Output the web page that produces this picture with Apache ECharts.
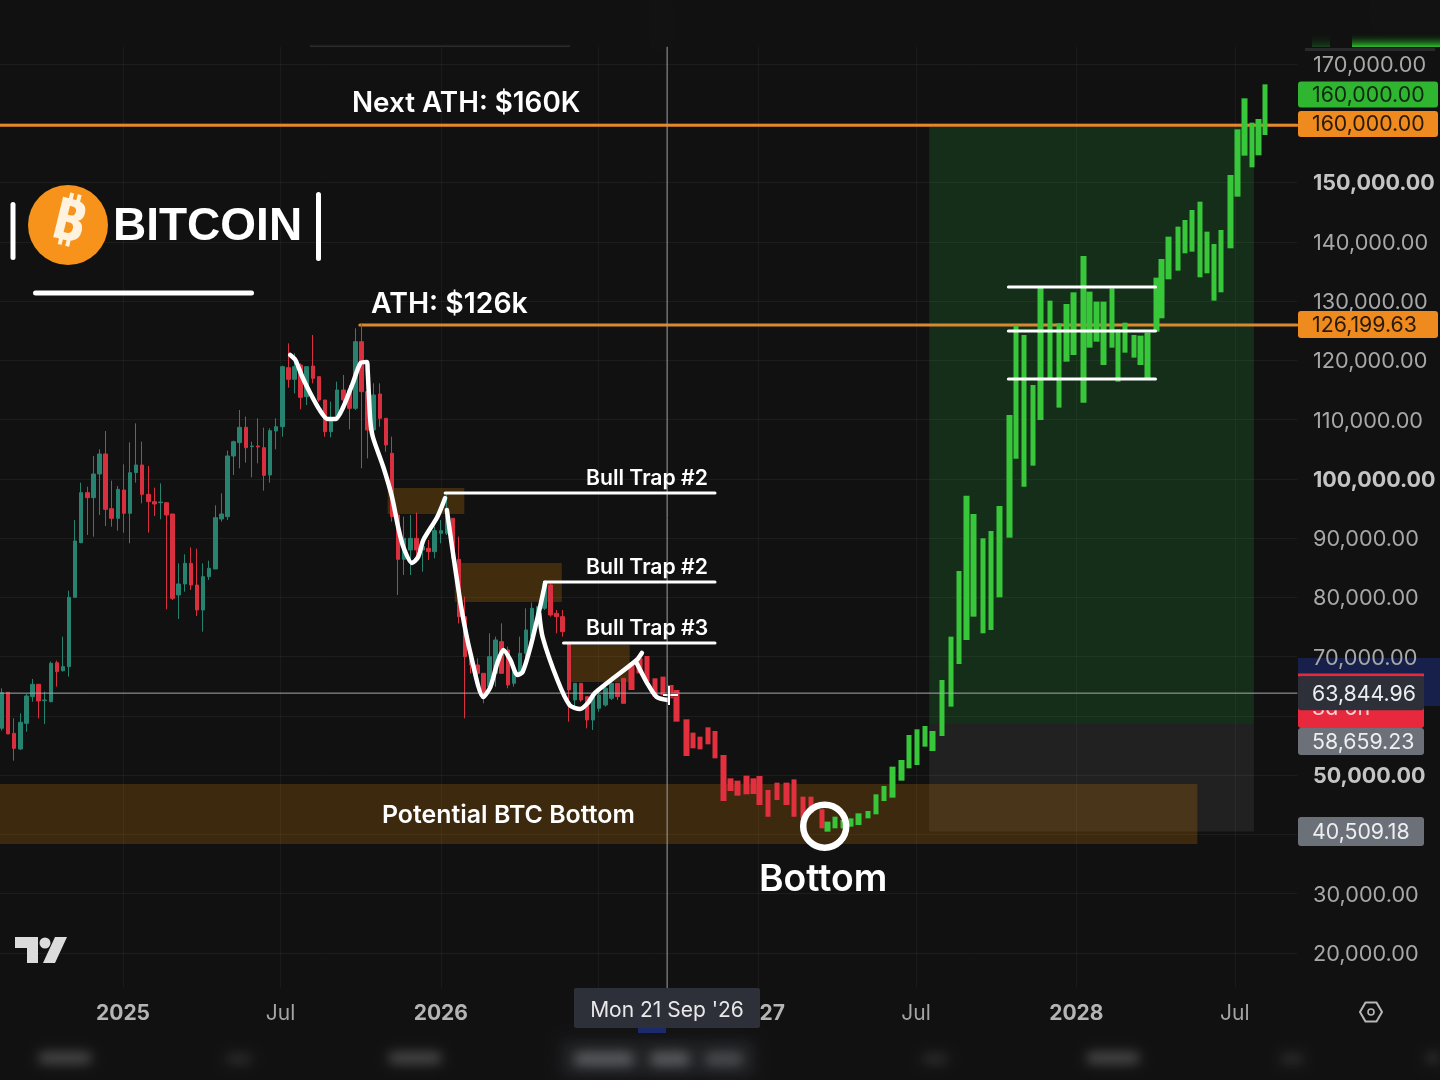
<!DOCTYPE html>
<html>
<head>
<meta charset="utf-8">
<style>html,body{margin:0;padding:0;background:#111112}#c{width:1440px;height:1080px}</style>
<script src="https://cdn.jsdelivr.net/npm/echarts@6/dist/echarts.min.js"></script>
</head>
<body>
<div id="c"></div>
<script>
// ---------- axis (x is measured in days after 1 Jan 2025) ----------
const yTicks = [20000,30000,40000,50000,60000,70000,80000,90000,100000,110000,120000,130000,140000,150000,160000,170000];
const yBoldTicks = [50000,100000,150000];
const xTickDays = [0,181,365,546,730,911,1095,1277];
const xTickLabels = ['2025','Jul','2026','Jul','2027','Jul','2028','Jul'];
const xBoldLabels = ['2025','2026','2027','2028'];
const xMinDay = -141.3, xMaxDay = 1348.5, yMin = 14094, yMax = 172868;

// ---------- weekly candles: open, close, low, high ----------
const histStartDay = -139;
const histOHLC = [
[57911,63929,57517,64660],[63985,56955,56955,63985],[57067,54535,52455,59598],[54424,58923,54256,60442],
[58755,63366,57349,63703],[63254,65335,62410,66235],[65335,62523,59598,65335],[62580,62692,58642,64098],
[62410,68878,62298,69160],[68990,67472,64941,69328],[67640,68316,67472,73377],[68316,80014,66626,81137],
[80014,89518,80014,93061],[89238,97672,89124,99360],[97672,96829,90530,98685],[96829,100822,90249,103859],
[100822,104197,93905,104984],[104197,94861,92048,108077],[94973,93342,91936,99697],[93342,98235,91261,98797],
[98123,94186,90924,102453],[94186,101047,89124,106165],[101047,102341,99360,109371],[102341,97392,95873,106277],
[97392,96154,90924,102172],[96154,95760,93736,98516],[95986,96098,93173,99247],[95986,93905,77989,95986],
[94073,79845,79563,94073],[80407,82263,76357,85750],[82263,85750,80969,87268],[85750,82094,81251,88449],
[82094,77876,76864,88224],[77876,83500,74221,85750],[83500,84906,82938,86200],[84794,93455,84794,95536],
[93230,94073,92780,97560],[93623,103859,93061,104759],[103859,106277,100653,106446],[106108,108696,101778,111620],
[108696,105265,102734,110495],[105434,105546,100259,106277],[105546,105378,102622,110214],[105265,100597,98010,108640],
[100653,108133,99360,108527],[108077,108808,104984,110214],[108808,118931,107121,119100],[118763,116794,115388,122868],
[116794,118931,114432,121181],[119213,113757,111733,119494],[113870,118931,112464,118931],[119044,116963,116119,124274],
[117244,113307,113026,117244],[113307,107965,107121,113307],[107965,109933,107009,113026],[109933,114995,109933,116401],
[114995,113307,112745,117525],[114995,111901,108358,115838],[111901,123149,111620,125399],[123149,114713,101778,126199],
[114713,108246,103465,120056],[108246,114151,108246,116119],[114320,110214,108808,116119],[110214,105715,104590,110214],
[104309,93623,92780,107121],[93905,86425,80407,94186],[86425,89968,83781,93623],[87999,89968,83781,93905],
[89968,87999,86312,94298],[87999,88561,84343,90249],[88280,87718,86312,89687],[87718,91261,86594,91936],
[90812,91261,89124,93061],[90812,94467,90530,97560],[93342,86594,86594,93342],[86425,76752,75627,90249],
[76752,69993,59598,80126],[69993,68597,67190,69993],[68597,67190,64941,69721],[67190,63254,62129,67190],
[64941,69993,64379,73939],[67190,72815,64941,73377],[72534,67190,67190,75627],[71127,65222,64660,71690],
[65504,67472,64941,68878],[67190,70565,66909,73377],[70565,74502,67753,78157],[73377,78157,73377,79113],
[76752,78438,76000,78438],[78157,82375,77876,82375],[82094,77032,76751,82375],[77313,76751,73939,77876],
[76751,74221,73377,77876],[72253,64379,59036,72253],[62692,65504,61285,65504],[65504,62692,62410,65504],
[63254,59317,57911,63254],[59317,63535,57630,63535],[61285,63535,60722,64379],[61847,64660,61566,65222],
[62974,65504,62692,66629],[65504,63254,62692,65504],[66347,62129,62129,66347]
];

// ---------- projected bars: day, start, end ----------
const projDays = [584,593,602,611,620,629,636,647,655,663,672,680,690,698,706,716,724,731,741,751,762,771,781,790,803,809,818,827,836,845,856,865,874,884,894,903,912,921,930,941,951,960,969,977,988,997,1007,1018,1026,1035,1045,1054,1065,1075,1084,1092,1103,1110,1118,1126,1136,1143,1151,1161,1169,1177,1187,1193,1201,1212,1220,1228,1237,1245,1253,1261,1272,1280,1288,1297,1304,1312];
const projStart = [68878,69721,70113,66347,66629,65221,64376,59427,57178,56503,58078,57458,53409,49472,49079,49922,49472,49866,47504,48741,48741,49303,46379,46379,44242,40474,41037,41037,41317,41599,42723,43398,45648,46210,49079,51160,51722,54815,54084,56618,61567,68765,72815,76752,73940,74502,80014,90081,103410,98686,102228,109934,116966,112017,119778,120904,112860,122140,123152,119215,122140,116404,121296,120454,119215,116966,124841,127090,133669,135132,138056,138337,134007,134682,130070,131476,138900,147617,154534,152566,154591,158021];
const projEnd = [64379,67190,65785,63254,63535,62973,59033,53241,54534,54365,55209,52847,45648,47335,46548,46773,46829,44973,42985,45817,44973,42985,42723,43567,41037,42161,43005,42442,42723,43567,43961,46773,48178,51441,52566,56784,57740,58303,57458,66066,73378,84457,97167,94074,89968,91206,95424,110777,125964,124277,115840,132432,130070,126246,129508,131476,137606,131589,129902,129902,132151,125234,126358,124277,124165,124671,133951,137100,140868,142555,143680,145367,146773,141712,139631,141993,151272,158977,164208,160102,160721,166570];

// ---------- hand-drawn sketch: [day, price] ----------
const sketchA = [[192,120900],[198,120056],[206,117187],[215,114500],[226,111600],[235,110100],[244,110100],[253,112126],[264,116176],[273,119551],[280,119720],[281,118370],[284,109932],[287,107066],[299,102000],[309,96939],[316,91880],[322,88500],[332,85800],[339,86816],[345,89685],[361,93572],[370,96771]];
const sketchB = [[372,94747],[379,87491],[389,77881],[399,70620],[414,63193],[422,64880],[430,68930],[437,71125],[445,69438],[453,66907],[459,67413],[468,71630],[479,78380],[485,82430]];
const sketchC = [[478,77366],[482,73316],[499,66060],[513,61840],[525,61170],[534,62180],[542,63870],[590,69440],[596,70620]];
const sketchD = [[590,68930],[602,65550],[613,63190],[626,62690]];

// ---------- level lines: [start day, end day, price] ----------
const trapLines = [[370,680,97611],[484,680,82600],[506,680,72306]];
const rangeLines = [[1017,1186,132372],[1017,1186,124960],[1017,1186,116850]];
const athLevel = 125950, nextAthLevel = 159650, athStartDay = 272;
const crossDay = 625, crossPrice = 63844.96;
const bottomMark = [806, 41400];

// ---------- zones ----------
const zoneStart = [926,926,-141.3,304,381,510];
const zoneEnd = [1299,1299,1234,392,504,582];
const zoneHigh = [159370,58659,48514,98460,85804,71968];
const zoneLow = [58659,40509,38390,94075,79222,65725];
const zoneFill = ['rgba(40,200,60,0.16)','rgba(255,255,255,0.07)','rgba(197,117,5,0.25)','rgba(197,117,5,0.27)','rgba(197,117,5,0.27)','rgba(197,117,5,0.27)'];

// ---------- price tags, in paint order ----------
const bandPrice = 65730;
const tagPrice = [66900,61340,63844.96,55680,40509.18,159880,164850,126045];
const tagText = ['','3d 6h','63,844.96','58,659.23','40,509.18','160,000.00','160,000.00','126,199.63'];
const tagWidth = [126,126,126,126,126,140,140,140];
const tagHeight = [3,40,34,27,29,26,26,27];
const tagFill = ['#e8283c','#e8283c','#2d3038','#6c7078','#6c7078','#ef8a1f','#2fb52f','#ef8a1f'];
const tagInk = ['#fff','#ffd0d4','#eceef0','#eceef0','#eceef0','#2a1a08','#0f2a10','#2a1a08'];

const FONT = 'Inter, "Noto Sans", sans-serif';

const histData = histOHLC.map((r,i)=>[histStartDay+7*i, r[0], r[1], r[2], r[3]]);
const projData = projDays.map((d,i)=>{
  const a=projStart[i], b=projEnd[i];
  return [d, a, b, Math.min(a,b), Math.max(a,b)];
});
const segs = (rows)=>rows.map(r=>[[r[0],r[2]],[r[1],r[2]]]);
const line = (data,color,width,z,smooth)=>({type:'line',data,showSymbol:false,symbol:'none',silent:true,z,smooth:smooth||false,
  lineStyle:{color,width,cap:'round',join:'round'},animation:false,clip:true});

const series = [];
series.push({type:'custom',z:-1,silent:true,clip:false,data:[[0,bandPrice]],encode:{x:0,y:1},
  renderItem(params,api){
    const y=api.coord([api.value(0),api.value(1)])[1];
    return {type:'rect',shape:{x:params.coordSys.x+params.coordSys.width+1,y:y-24,width:142,height:48},style:{fill:'#16204a'}};
  }});
series.push({type:'custom',z:1,silent:true,
  data:zoneStart.map((_,i)=>[zoneStart[i],zoneHigh[i],zoneEnd[i],zoneLow[i],i]),
  encode:{x:[0,2],y:[1,3]},
  renderItem(p,api){
    const a=api.coord([api.value(0),api.value(1)]), b=api.coord([api.value(2),api.value(3)]);
    return {type:'rect',shape:{x:a[0],y:a[1],width:b[0]-a[0],height:b[1]-a[1]},style:{fill:zoneFill[api.value(4)]}};
  }});
series.push(line([[xMinDay,nextAthLevel],[xMaxDay,nextAthLevel]],'#e5892b',3,2));
series.push(line([[athStartDay,athLevel],[xMaxDay,athLevel]],'#d98a30',3,2));
series.push({type:'candlestick',z:4,silent:true,barWidth:4,data:histData,
  itemStyle:{color:'#27836f',color0:'#d8303e',borderColor:'#27836f',borderColor0:'#d8303e',borderWidth:1}});
series.push({type:'candlestick',z:4,silent:true,barWidth:6,data:projData,
  itemStyle:{color:'#38c63a',color0:'#e2303f',borderColor:'#38c63a',borderColor0:'#e2303f',borderWidth:0}});
series.push(line([[crossDay,yMin],[crossDay,yMax]],'#a0a0a0',1,5));
series.push(line([[xMinDay,crossPrice],[xMaxDay,crossPrice]],'#a8a8a8',1,5));
[sketchA,sketchB,sketchC,sketchD].forEach(s=>series.push(line(s,'#ffffff',4.5,6,0.25)));
segs(trapLines).forEach(s=>series.push(line(s,'#ffffff',3,6)));
segs(rangeLines).forEach(s=>series.push(line(s,'#ffffff',3,6)));
series.push({type:'scatter',z:7,silent:true,symbol:'circle',symbolSize:43,data:[bottomMark],
  itemStyle:{color:'rgba(0,0,0,0)',borderColor:'#ffffff',borderWidth:6.5,opacity:1}});
series.push({type:'custom',z:9,silent:true,clip:false,
  data:tagPrice.map((p,i)=>[0,p,i]),
  encode:{x:0,y:1},
  renderItem(params,api){
    const i=api.value(2), y=api.coord([api.value(0),api.value(1)])[1];
    const left=params.coordSys.x+params.coordSys.width+1, h=tagHeight[i];
    const kids=[{type:'rect',shape:{x:left,y:y-h/2,width:tagWidth[i],height:h,r:h>5?3:0},style:{fill:tagFill[i]}}];
    if(tagText[i]) kids.push({type:'text',style:{text:tagText[i],x:left+14,y:y+1,fill:tagInk[i],font:'400 21.3px '+FONT,align:'left',verticalAlign:'middle'}});
    return {type:'group',children:kids};
  }});

const lbl=(text,x,y,size,weight)=>({type:'text',z:100,silent:true,style:{text,x,y,fill:'#ffffff',font:`${weight||600} ${size}px ${FONT}`,align:'left',verticalAlign:'middle'}});
const blur=(x,y,w,h,c,b)=>({type:'rect',z:0,silent:true,shape:{x:x-3000,y,width:w,height:h,r:6},style:{fill:c,shadowBlur:b||12,shadowColor:c,shadowOffsetX:3000}});
const fadeUp=(x,y,w,h,c)=>({type:'rect',z:0,silent:true,shape:{x,y,width:w,height:h},style:{fill:{type:'linear',x:0,y:0,x2:0,y2:1,colorStops:[{offset:0,color:'rgba(0,0,0,0)'},{offset:1,color:c}]}}});

const hex=[];for(let k=0;k<6;k++){hex.push([1371+11*Math.cos(k*Math.PI/3),1012+11*Math.sin(k*Math.PI/3)]);}

const graphic=[
  fadeUp(310,43,260,4,'rgba(110,110,110,0.4)'),
  fadeUp(1312,32,18,15,'rgba(40,150,50,0.35)'),
  fadeUp(1352,32,88,15,'rgba(50,200,50,0.95)'),
  blur(1385,2,55,18,'rgba(255,255,255,0.06)',14),
  blur(657,0,8,44,'rgba(255,255,255,0.05)',6),
  {type:'rect',z:0,silent:true,shape:{x:1305,y:48,width:130,height:3},style:{fill:'#2a2a2c'}},
  blur(560,1040,195,36,'rgba(70,74,84,0.5)',14),
  {type:'rect',z:1,silent:true,shape:{x:638,y:1028,width:28,height:5},style:{fill:'#1b2a6b'}},
  blur(38,1052,54,12,'rgba(130,130,130,0.7)'),
  blur(226,1054,26,10,'rgba(110,110,110,0.55)'),
  blur(388,1052,54,12,'rgba(130,130,130,0.7)'),
  blur(574,1052,60,14,'rgba(150,150,155,0.7)'),
  blur(650,1052,40,14,'rgba(150,150,155,0.7)'),
  blur(705,1052,38,14,'rgba(150,150,155,0.6)'),
  blur(922,1054,26,10,'rgba(110,110,110,0.55)'),
  blur(1086,1052,54,12,'rgba(130,130,130,0.7)'),
  blur(1280,1054,24,10,'rgba(110,110,110,0.55)'),
  blur(1426,1052,14,12,'rgba(120,120,120,0.55)'),
  {type:'rect',z:100,silent:true,shape:{x:574,y:988,width:186,height:40,r:2},style:{fill:'#2d3038'}},
  {type:'text',z:101,silent:true,style:{text:"Mon 21 Sep '26",x:667,y:1011,fill:'#e8e8ea',font:`400 21px ${FONT}`,align:'center',verticalAlign:'middle'}},
  {type:'line',z:101,silent:true,shape:{x1:663,y1:695,x2:678,y2:695},style:{stroke:'#ffffff',lineWidth:2,shadowBlur:2,shadowColor:'#000'}},
  {type:'line',z:101,silent:true,shape:{x1:669,y1:686,x2:669,y2:705},style:{stroke:'#ffffff',lineWidth:2,shadowBlur:2,shadowColor:'#000'}},
  lbl('Next ATH: $160K',352,104,27.8),
  lbl('ATH: $126k',371,304,28.4),
  lbl('Bull Trap #2',586,478.5,21.2),
  lbl('Bull Trap #2',586,567.5,21.2),
  lbl('Bull Trap #3',586,628.5,21.2),
  lbl('Potential BTC Bottom',382,815.5,24.9),
  lbl('Bottom',759,880,37.3),
  {type:'rect',z:100,silent:true,shape:{x:10.5,y:202,width:5,height:58,r:2.5},style:{fill:'#fff'}},
  {type:'rect',z:100,silent:true,shape:{x:316,y:192,width:5,height:69,r:2.5},style:{fill:'#fff'}},
  {type:'rect',z:100,silent:true,shape:{x:33,y:290.5,width:221,height:5,r:2.5},style:{fill:'#fff'}},
  {type:'circle',z:100,silent:true,shape:{cx:68,cy:225,r:40},style:{fill:'#f7931a'}},
  {type:'text',z:101,silent:true,rotation:-0.24,x:68,y:225,style:{text:'₿',x:0,y:0,fill:'#fff3e0',font:'700 58px "DejaVu Sans", "Noto Sans", sans-serif',align:'center',verticalAlign:'middle'}},
  {type:'text',z:100,silent:true,style:{text:'BITCOIN',x:113,y:227,fill:'#ffffff',font:'700 46px "Liberation Sans", Arial, sans-serif',align:'left',verticalAlign:'middle'}},
  {type:'polygon',z:100,silent:true,shape:{points:[[15,937],[38,937],[38,963],[27,963],[27,948],[15,948]]},style:{fill:'#dcdcdc'}},
  {type:'circle',z:100,silent:true,shape:{cx:45,cy:943,r:5.5},style:{fill:'#dcdcdc'}},
  {type:'polygon',z:100,silent:true,shape:{points:[[55,937],[67,937],[55,963],[43,963]]},style:{fill:'#dcdcdc'}},
  {type:'polygon',z:100,silent:true,shape:{points:hex},style:{fill:'none',stroke:'#b8b8b8',lineWidth:2,lineJoin:'round'}},
  {type:'circle',z:100,silent:true,shape:{cx:1371,cy:1012,r:3},style:{fill:'none',stroke:'#b8b8b8',lineWidth:1.6}}
];

const chart = echarts.init(document.getElementById('c'),null,{renderer:'canvas'});
chart.setOption({
  animation:false,
  backgroundColor:'#111112',
  grid:{left:0,top:47,width:1297,height:941,containLabel:false},
  tooltip:{show:false},
  xAxis:{type:'value',min:xMinDay,max:xMaxDay,scale:true,
    axisLine:{show:false},
    axisTick:{show:false,customValues:xTickDays},
    splitLine:{show:true,lineStyle:{color:'rgba(255,255,255,0.045)',width:1}},
    axisLabel:{customValues:xTickDays,margin:15,hideOverlap:false,showMinLabel:true,showMaxLabel:true,
      formatter(v){
        const s=xTickLabels[xTickDays.indexOf(Math.round(v))]||'';
        return xBoldLabels.includes(s)?`{b|${s}}`:`{n|${s}}`;
      },
      rich:{b:{fontFamily:FONT,fontSize:21,fontWeight:700,color:'#b4b4b4'},n:{fontFamily:FONT,fontSize:21,fontWeight:400,color:'#a4a4a4'}}}
  },
  yAxis:{type:'value',position:'right',min:yMin,max:yMax,scale:true,
    axisLine:{show:false},
    axisTick:{show:false,customValues:yTicks},
    splitLine:{show:true,lineStyle:{color:'rgba(255,255,255,0.05)',width:1}},
    axisLabel:{customValues:yTicks,margin:16,align:'left',hideOverlap:false,showMinLabel:true,showMaxLabel:true,
      formatter(v){
        const s=v.toLocaleString('en-US',{minimumFractionDigits:2,maximumFractionDigits:2});
        return yBoldTicks.includes(v)?`{b|${s}}`:`{n|${s}}`;
      },
      rich:{b:{fontFamily:FONT,fontSize:21.5,fontWeight:700,color:'#c4c4c4',padding:[3,0,0,0]},n:{fontFamily:FONT,fontSize:21.7,fontWeight:400,color:'#a8a8a8',padding:[3,0,0,0]}}}
  },
  series,
  graphic
});
</script>
</body>
</html>
